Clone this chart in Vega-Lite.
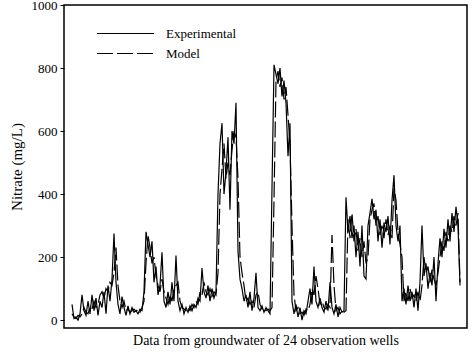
{
  "$schema": "https://vega.github.io/schema/vega-lite/v6.json",
  "width": 403,
  "height": 323,
  "autosize": {"type": "none"},
  "padding": {"left": 64, "top": 5, "right": 7, "bottom": 35},
  "background": "white",
  "config": {
    "view": {"stroke": "black", "strokeWidth": 1.5},
    "font": "Liberation Serif"
  },
  "data": {
    "values": [
      {"t": 8, "Experimental": 50, "Model": 20},
      {"t": 10, "Experimental": 5, "Model": 10},
      {"t": 12, "Experimental": 10, "Model": 5},
      {"t": 14, "Experimental": 0, "Model": 15},
      {"t": 16, "Experimental": 20, "Model": 10},
      {"t": 18, "Experimental": 80, "Model": 20},
      {"t": 20, "Experimental": 30, "Model": 40},
      {"t": 22, "Experimental": 15, "Model": 25},
      {"t": 24, "Experimental": 60, "Model": 20},
      {"t": 26, "Experimental": 20, "Model": 40},
      {"t": 28, "Experimental": 80, "Model": 35},
      {"t": 30, "Experimental": 30, "Model": 60},
      {"t": 32, "Experimental": 70, "Model": 40},
      {"t": 34, "Experimental": 15, "Model": 50},
      {"t": 36, "Experimental": 60, "Model": 80},
      {"t": 38, "Experimental": 40, "Model": 90},
      {"t": 40, "Experimental": 90, "Model": 70},
      {"t": 42, "Experimental": 20, "Model": 100},
      {"t": 44, "Experimental": 110, "Model": 90},
      {"t": 46, "Experimental": 60, "Model": 120},
      {"t": 48, "Experimental": 130, "Model": 110},
      {"t": 50, "Experimental": 275, "Model": 150},
      {"t": 52, "Experimental": 120, "Model": 230},
      {"t": 54, "Experimental": 50, "Model": 110},
      {"t": 56, "Experimental": 20, "Model": 60},
      {"t": 58, "Experimental": 75, "Model": 40},
      {"t": 60, "Experimental": 40, "Model": 60},
      {"t": 62, "Experimental": 15, "Model": 30},
      {"t": 64, "Experimental": 45, "Model": 35},
      {"t": 66, "Experimental": 20, "Model": 25},
      {"t": 68, "Experimental": 40, "Model": 30},
      {"t": 70, "Experimental": 25, "Model": 35},
      {"t": 72, "Experimental": 30, "Model": 28},
      {"t": 74, "Experimental": 20, "Model": 35},
      {"t": 76, "Experimental": 35, "Model": 25},
      {"t": 78, "Experimental": 30, "Model": 40},
      {"t": 80, "Experimental": 90, "Model": 60},
      {"t": 82, "Experimental": 280, "Model": 180},
      {"t": 84, "Experimental": 240, "Model": 270},
      {"t": 86, "Experimental": 200, "Model": 230},
      {"t": 88, "Experimental": 250, "Model": 180},
      {"t": 90, "Experimental": 120, "Model": 200},
      {"t": 92, "Experimental": 170, "Model": 140},
      {"t": 94, "Experimental": 80, "Model": 110},
      {"t": 96, "Experimental": 110, "Model": 90},
      {"t": 98, "Experimental": 215, "Model": 130},
      {"t": 100, "Experimental": 60, "Model": 90},
      {"t": 102, "Experimental": 40, "Model": 70},
      {"t": 104, "Experimental": 90, "Model": 50},
      {"t": 106, "Experimental": 50, "Model": 80},
      {"t": 108, "Experimental": 120, "Model": 60},
      {"t": 110, "Experimental": 60, "Model": 100},
      {"t": 112, "Experimental": 205, "Model": 110},
      {"t": 114, "Experimental": 60, "Model": 120},
      {"t": 116, "Experimental": 30, "Model": 60},
      {"t": 118, "Experimental": 50, "Model": 40},
      {"t": 120, "Experimental": 20, "Model": 35},
      {"t": 122, "Experimental": 40, "Model": 30},
      {"t": 124, "Experimental": 25, "Model": 40},
      {"t": 126, "Experimental": 45, "Model": 30},
      {"t": 128, "Experimental": 30, "Model": 50},
      {"t": 130, "Experimental": 50, "Model": 40},
      {"t": 132, "Experimental": 40, "Model": 60},
      {"t": 134, "Experimental": 70, "Model": 50},
      {"t": 136, "Experimental": 60, "Model": 90},
      {"t": 138, "Experimental": 165, "Model": 80},
      {"t": 140, "Experimental": 90, "Model": 120},
      {"t": 142, "Experimental": 70, "Model": 90},
      {"t": 144, "Experimental": 110, "Model": 80},
      {"t": 146, "Experimental": 60, "Model": 100},
      {"t": 148, "Experimental": 100, "Model": 75},
      {"t": 150, "Experimental": 70, "Model": 90},
      {"t": 152, "Experimental": 90, "Model": 80},
      {"t": 154, "Experimental": 400, "Model": 150},
      {"t": 156, "Experimental": 560, "Model": 400},
      {"t": 158, "Experimental": 625, "Model": 480},
      {"t": 160, "Experimental": 400, "Model": 560},
      {"t": 162, "Experimental": 470, "Model": 450},
      {"t": 164, "Experimental": 580, "Model": 500},
      {"t": 166, "Experimental": 350, "Model": 460},
      {"t": 168, "Experimental": 600, "Model": 540},
      {"t": 170, "Experimental": 560, "Model": 600},
      {"t": 172, "Experimental": 690, "Model": 580},
      {"t": 174, "Experimental": 220, "Model": 450},
      {"t": 176, "Experimental": 130, "Model": 200},
      {"t": 178, "Experimental": 100, "Model": 150},
      {"t": 180, "Experimental": 60, "Model": 110},
      {"t": 182, "Experimental": 80, "Model": 60},
      {"t": 184, "Experimental": 40, "Model": 70},
      {"t": 186, "Experimental": 90, "Model": 50},
      {"t": 188, "Experimental": 30, "Model": 60},
      {"t": 190, "Experimental": 70, "Model": 40},
      {"t": 192, "Experimental": 150, "Model": 80},
      {"t": 194, "Experimental": 40, "Model": 90},
      {"t": 196, "Experimental": 30, "Model": 50},
      {"t": 198, "Experimental": 45, "Model": 35},
      {"t": 200, "Experimental": 25, "Model": 40},
      {"t": 202, "Experimental": 40, "Model": 30},
      {"t": 204, "Experimental": 30, "Model": 35},
      {"t": 206, "Experimental": 20, "Model": 30},
      {"t": 208, "Experimental": 420, "Model": 40},
      {"t": 210, "Experimental": 810, "Model": 380},
      {"t": 212, "Experimental": 780, "Model": 760},
      {"t": 214, "Experimental": 750, "Model": 790},
      {"t": 216, "Experimental": 800, "Model": 740},
      {"t": 218, "Experimental": 710, "Model": 770},
      {"t": 220, "Experimental": 760, "Model": 700},
      {"t": 222, "Experimental": 690, "Model": 740},
      {"t": 224, "Experimental": 520, "Model": 650},
      {"t": 226, "Experimental": 625, "Model": 560},
      {"t": 228, "Experimental": 60, "Model": 300},
      {"t": 230, "Experimental": 20, "Model": 80},
      {"t": 232, "Experimental": 50, "Model": 30},
      {"t": 234, "Experimental": 10, "Model": 40},
      {"t": 236, "Experimental": 40, "Model": 20},
      {"t": 238, "Experimental": 0, "Model": 25},
      {"t": 240, "Experimental": 30, "Model": 15},
      {"t": 242, "Experimental": 20, "Model": 35},
      {"t": 244, "Experimental": 60, "Model": 30},
      {"t": 246, "Experimental": 100, "Model": 50},
      {"t": 248, "Experimental": 50, "Model": 100},
      {"t": 250, "Experimental": 170, "Model": 80},
      {"t": 252, "Experimental": 60, "Model": 140},
      {"t": 254, "Experimental": 40, "Model": 100},
      {"t": 256, "Experimental": 70, "Model": 50},
      {"t": 258, "Experimental": 40, "Model": 60},
      {"t": 260, "Experimental": 25, "Model": 40},
      {"t": 262, "Experimental": 60, "Model": 35},
      {"t": 264, "Experimental": 30, "Model": 50},
      {"t": 266, "Experimental": 120, "Model": 40},
      {"t": 268, "Experimental": 40, "Model": 270},
      {"t": 270, "Experimental": 20, "Model": 110},
      {"t": 272, "Experimental": 50, "Model": 30},
      {"t": 274, "Experimental": 10, "Model": 40},
      {"t": 276, "Experimental": 40, "Model": 20},
      {"t": 278, "Experimental": 25, "Model": 30},
      {"t": 280, "Experimental": 30, "Model": 25},
      {"t": 282, "Experimental": 390, "Model": 30},
      {"t": 284, "Experimental": 280, "Model": 320},
      {"t": 286, "Experimental": 330, "Model": 260},
      {"t": 288, "Experimental": 260, "Model": 340},
      {"t": 290, "Experimental": 300, "Model": 250},
      {"t": 292, "Experimental": 200, "Model": 290},
      {"t": 294, "Experimental": 280, "Model": 220},
      {"t": 296, "Experimental": 170, "Model": 260},
      {"t": 298, "Experimental": 300, "Model": 200},
      {"t": 300, "Experimental": 140, "Model": 250},
      {"t": 302, "Experimental": 130, "Model": 180},
      {"t": 304, "Experimental": 300, "Model": 200},
      {"t": 306, "Experimental": 340, "Model": 320},
      {"t": 308, "Experimental": 385, "Model": 350},
      {"t": 310, "Experimental": 320, "Model": 370},
      {"t": 312, "Experimental": 350, "Model": 300},
      {"t": 314, "Experimental": 250, "Model": 330},
      {"t": 316, "Experimental": 320, "Model": 270},
      {"t": 318, "Experimental": 230, "Model": 300},
      {"t": 320, "Experimental": 310, "Model": 260},
      {"t": 322, "Experimental": 280, "Model": 320},
      {"t": 324, "Experimental": 330, "Model": 270},
      {"t": 326, "Experimental": 240, "Model": 300},
      {"t": 328, "Experimental": 380, "Model": 260},
      {"t": 330, "Experimental": 460, "Model": 420},
      {"t": 332, "Experimental": 300, "Model": 380},
      {"t": 334, "Experimental": 250, "Model": 280},
      {"t": 336, "Experimental": 300, "Model": 240},
      {"t": 338, "Experimental": 60, "Model": 200},
      {"t": 340, "Experimental": 100, "Model": 60},
      {"t": 342, "Experimental": 50, "Model": 90},
      {"t": 344, "Experimental": 110, "Model": 60},
      {"t": 346, "Experimental": 60, "Model": 100},
      {"t": 348, "Experimental": 90, "Model": 70},
      {"t": 350, "Experimental": 40, "Model": 80},
      {"t": 352, "Experimental": 100, "Model": 60},
      {"t": 354, "Experimental": 30, "Model": 90},
      {"t": 356, "Experimental": 120, "Model": 60},
      {"t": 358, "Experimental": 300, "Model": 110},
      {"t": 360, "Experimental": 140, "Model": 200},
      {"t": 362, "Experimental": 180, "Model": 150},
      {"t": 364, "Experimental": 100, "Model": 170},
      {"t": 366, "Experimental": 150, "Model": 120},
      {"t": 368, "Experimental": 110, "Model": 160},
      {"t": 370, "Experimental": 200, "Model": 130},
      {"t": 372, "Experimental": 60, "Model": 110},
      {"t": 374, "Experimental": 180, "Model": 150},
      {"t": 376, "Experimental": 260, "Model": 200},
      {"t": 378, "Experimental": 200, "Model": 250},
      {"t": 380, "Experimental": 290, "Model": 220},
      {"t": 382, "Experimental": 230, "Model": 280},
      {"t": 384, "Experimental": 320, "Model": 250},
      {"t": 386, "Experimental": 250, "Model": 300},
      {"t": 388, "Experimental": 340, "Model": 280},
      {"t": 390, "Experimental": 280, "Model": 330},
      {"t": 392, "Experimental": 360, "Model": 300},
      {"t": 394, "Experimental": 300, "Model": 340},
      {"t": 396, "Experimental": 110, "Model": 120}
    ]
  },
  "transform": [
    {"fold": ["Experimental", "Model"], "as": ["series", "nitrate"]}
  ],
  "mark": {"type": "line", "strokeWidth": 1.2, "color": "black"},
  "encoding": {
    "x": {
      "field": "t",
      "type": "quantitative",
      "scale": {"domain": [0, 403], "nice": false, "zero": false},
      "axis": {
        "title": "Data from groundwater of 24 observation wells",
        "labels": false,
        "ticks": false,
        "domain": false,
        "grid": false,
        "titleFont": "Liberation Serif",
        "titleFontSize": 14,
        "titleFontWeight": "normal",
        "titleColor": "black",
        "titlePadding": 5
      }
    },
    "y": {
      "field": "nitrate",
      "type": "quantitative",
      "scale": {"domain": [-25, 1000], "nice": false, "zero": false},
      "axis": {
        "title": "Nitrate (mg/L)",
        "values": [0, 200, 400, 600, 800, 1000],
        "format": "d",
        "grid": false,
        "domain": false,
        "tickColor": "black",
        "tickSize": 4,
        "labelFont": "Liberation Serif",
        "labelFontSize": 13,
        "labelColor": "black",
        "labelPadding": 3,
        "titleFont": "Liberation Serif",
        "titleFontSize": 15,
        "titleFontWeight": "normal",
        "titleColor": "black",
        "titlePadding": 7
      }
    },
    "strokeDash": {
      "field": "series",
      "type": "nominal",
      "scale": {"domain": ["Experimental", "Model"], "range": [[1, 0], [16, 4]]},
      "legend": {
        "title": null,
        "orient": "none",
        "legendX": 51,
        "legendY": 18,
        "symbolType": "M-3,0H3",
        "symbolSize": 361,
        "symbolStrokeWidth": 1.2,
        "symbolStrokeColor": "black",
        "labelFont": "Liberation Serif",
        "labelFontSize": 13,
        "labelColor": "black",
        "labelOffset": 30,
        "rowPadding": 2
      }
    }
  }
}
